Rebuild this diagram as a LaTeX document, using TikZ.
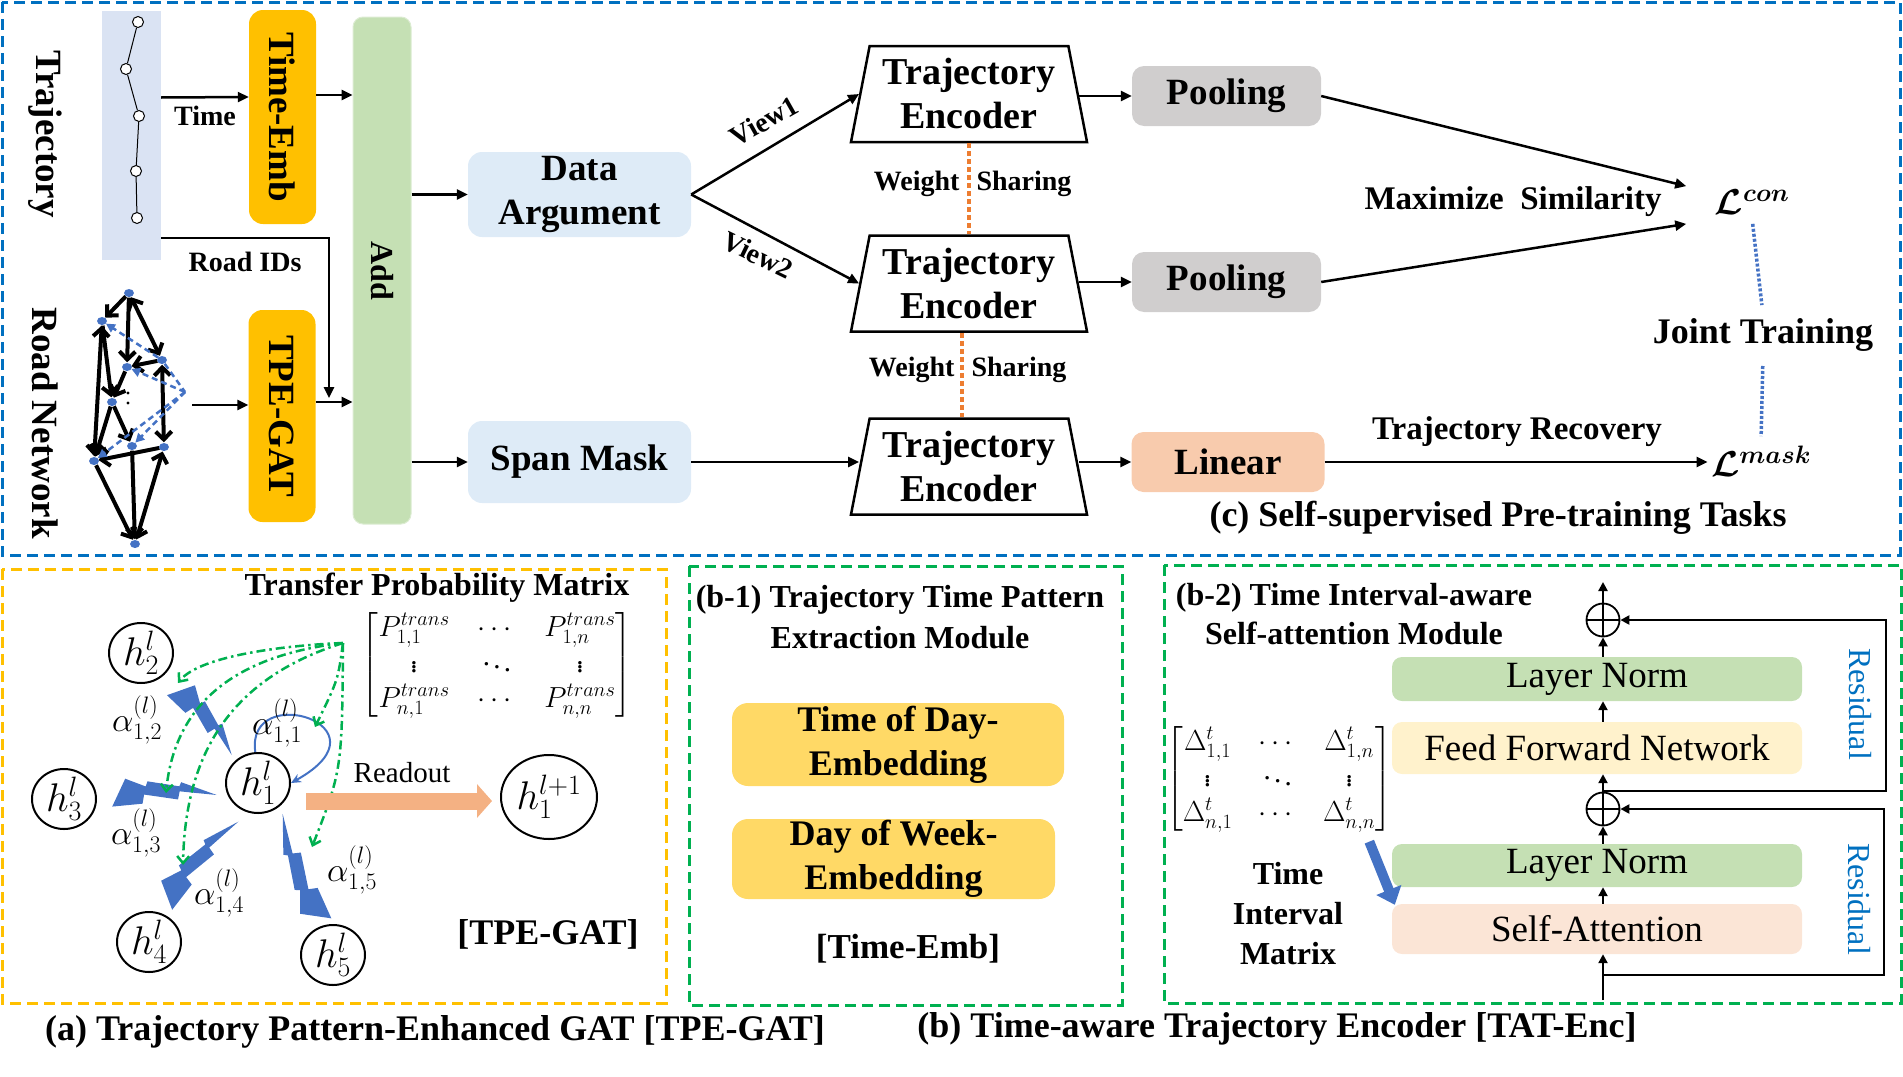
\RequirePackage{fix-cm}
\documentclass[tikz,border=0pt]{standalone}
\usepackage{amsmath}
\usepackage{fontspec}
\setmainfont{Liberation Serif}
\usetikzlibrary{arrows.meta, shapes.geometric, calc, positioning}

\definecolor{trajblue}{HTML}{DAE3F3}
\definecolor{embor}{HTML}{FFC000}
\definecolor{addgreen}{HTML}{C5E0B4}
\definecolor{boxblue}{HTML}{DEEBF7}
\definecolor{poolgray}{HTML}{D0CECE}
\definecolor{linorange}{HTML}{F8CBAD}
\definecolor{dayyellow}{HTML}{FFD966}
\definecolor{ffnyellow}{HTML}{FFF2CC}
\definecolor{sapeach}{HTML}{FBE5D6}
\definecolor{framblue}{HTML}{0070C0}
\definecolor{framgreen}{HTML}{00B050}
\definecolor{shareorange}{HTML}{ED7D31}
\definecolor{boltblue}{HTML}{4472C4}
\definecolor{readorange}{HTML}{F4B183}

\newcommand{\fsz}[2]{\fontsize{#1}{#2}\selectfont}

\tikzset{
  arr/.style={line width=2.5pt, -{Triangle[length=11pt,width=10pt]}},
  arrsm/.style={line width=2.5pt, -{Triangle[length=9pt,width=9pt]}},
  rdarr/.style={line width=4pt, -{Straight Barb[length=8pt,width=16pt]}},
  rdboth/.style={line width=4pt, {Straight Barb[length=8pt,width=16pt]}-{Straight Barb[length=8pt,width=16pt]}},
  rddash/.style={draw=boltblue, line width=2.5pt, dash pattern=on 6pt off 4pt, -{Triangle[length=9pt,width=9pt]}},
  gdd/.style={draw=framgreen, line width=2.5pt, dash pattern=on 9pt off 4pt on 2.5pt off 4pt, -{Straight Barb[length=7pt,width=12pt]}},
  dashframe/.style={line width=3pt, dash pattern=on 11pt off 6pt},
  share/.style={draw=shareorange, line width=4.5pt, dash pattern=on 5pt off 3pt},
  jdots/.style={draw=boltblue, line width=3.5pt, dash pattern=on 3pt off 2pt},
  vtext/.style={rotate=-90, font=\bfseries\fsz{37}{42}},
  embbox/.style={fill=embor, rounded corners=14pt, minimum width=67pt, inner sep=0pt},
  softbox/.style={fill=boxblue, rounded corners=14pt, minimum width=223pt, inner sep=0pt, align=center, font=\bfseries\fsz{37}{44}},
  encbox/.style={trapezium, draw, line width=2.5pt, trapezium left angle=76, trapezium right angle=76, trapezium stretches body, minimum width=236pt, minimum height=96pt, inner sep=2pt, align=center, font=\bfseries\fsz{38}{44}},
  headbox/.style={rounded corners=12pt, minimum width=189pt, minimum height=60pt, inner sep=0pt, font=\bfseries\fsz{37}{42}},
  lbl/.style={font=\bfseries\fsz{28}{32}},
  hnode/.style={ellipse, draw, line width=2pt, minimum width=64pt, minimum height=60pt, inner sep=-3pt, font=\fsz{40}{44}},
  attw/.style={font=\fsz{34}{38}},
  daybox/.style={fill=dayyellow, rounded corners=16pt, inner sep=0pt, align=center, font=\bfseries\fsz{36}{44}},
  layerbox/.style={rounded corners=10pt, minimum width=410pt, inner sep=0pt, font=\fsz{37}{42}},
  plusnode/.style={circle, draw, line width=1.8pt, minimum size=33pt, inner sep=0pt, path picture={\draw[line width=1.8pt] (path picture bounding box.north) -- (path picture bounding box.south) (path picture bounding box.west) -- (path picture bounding box.east);}},
  captext/.style={font=\bfseries\fsz{36}{42}},
}

\begin{document}
\begin{tikzpicture}[x=1pt, y=-1pt]
\useasboundingbox (0,0) rectangle (1903,1076);

\draw[dashframe, draw=framblue] (2,2) rectangle (1900,555);
\draw[dashframe, draw=embor] (2,569) rectangle (666,1003);
\draw[dashframe, draw=framgreen] (689,566) rectangle (1122,1005);
\draw[dashframe, draw=framgreen] (1164,565) rectangle (1901,1003);

% inputs
\node[vtext] (trajlbl) at (45,134) {Trajectory};
\node[vtext] (roadlbl) at (45,423) {Road Network};
\node[fill=trajblue, minimum width=59pt, minimum height=249pt, inner sep=0pt] (traj) at (131.5,135.5) {};
\foreach \px/\py [count=\i] in {138/22,126/69,139/116,136/171,137/218}
  \node[circle, draw, fill=white, line width=1pt, minimum size=11pt, inner sep=0pt] (p\i) at (\px,\py) {};
\draw[line width=1pt] (p1) -- (p2) -- (p3) -- (p4) -- (p5);

\foreach \n/\px/\py in {a/129/293, b/102/321, c/162/360, d/127/367, e/112/402, f/132/446, g/164/447, h/94/461, i/135/544}
  \node[circle, inner sep=0pt, minimum size=9pt] (r\n) at (\px,\py) {};
\coordinate (rtip) at (185,392);
\draw[rdarr] (ra) -- (rb);
\draw[rdarr] (ra) -- (rd);
\draw[rdboth] (ra) -- (rc);
\draw[rdboth] (rb) -- (rh);
\draw[rdarr] (rb) -- (re);
\draw[rdboth] (rc) -- (rg);
\draw[rdarr] (rc) -- (rd);
\draw[rdarr] (rd) -- (re);
\draw[rdarr] (re) -- (rh);
\draw[rdarr] (re) -- (rf);
\draw[rdarr] (rg) -- (rh);
\draw[rdarr] (rh) -- (ri);
\draw[rdarr] (rf) -- (ri);
\draw[rdboth] (rg) -- (ri);
\draw[rddash, -] (rc) -- (rtip);
\draw[rddash] (rtip) -- (rd);
\draw[rddash] (rc) -- (rb);
\draw[rddash] (rtip) -- (rf);
\draw[rddash] (rtip) -- (rh);
\foreach \n in {a,b,c,d,e,f,g,h,i}
  \fill[boltblue] (r\n) ellipse (5pt and 4pt);
\fill (128,393) circle (1.6pt) (128,403) circle (1.6pt);

% embedding and fusion
\node[embbox, minimum height=214pt, label={[vtext]center:Time-Emb}] (temb) at (282.5,117) {};
\node[embbox, minimum height=212pt, label={[vtext]center:TPE-GAT}] (tpe) at (282,416) {};
\node[fill=addgreen, draw=addgreen!60!white, line width=1pt, rounded corners=10pt, minimum width=58pt, minimum height=507pt, inner sep=0pt, label={[vtext, font=\bfseries\fsz{32}{36}]center:Add}] (add) at (382,270.5) {};
\node[softbox, minimum height=85pt] (da) at (579.5,194.5) {Data\\Argument};
\node[softbox, minimum height=82pt] (sm) at (579.5,462) {Span Mask};

\node[encbox] (enc1) at (969,94) {Trajectory\\Encoder};
\node[encbox] (enc2) at (969,283.5) {Trajectory\\Encoder};
\node[encbox] (enc3) at (969,466.5) {Trajectory\\Encoder};
\node[headbox, fill=poolgray] (pool1) at (1226.5,96) {Pooling};
\node[headbox, fill=poolgray] (pool2) at (1226.5,282) {Pooling};
\node[headbox, fill=linorange, minimum width=193pt] (lin) at (1228,462) {Linear};

\node[font=\fsz{36}{40}] (lcon) at (1752,202) {$\boldsymbol{\mathcal{L}^{con}}$};
\node[font=\bfseries\fsz{36}{40}] (joint) at (1763,335) {Joint Training};
\node[font=\fsz{36}{40}] (lmask) at (1761,461) {$\boldsymbol{\mathcal{L}^{mask}}$};
\node[font=\bfseries\fsz{33}{38}] (maxsim) at (1513,202) {Maximize~ Similarity};
\node[font=\bfseries\fsz{33}{38}] (recov) at (1517,432) {Trajectory Recovery};

\coordinate (netout) at (192,405);
\coordinate (idsend) at (329,398);
\draw[arr] ([yshift=38pt]traj.east) -- ([yshift=20pt]temb.west) node[midway, below=4pt, lbl] (timelbl) {Time};
\draw[arr] ([yshift=22pt]traj.south east) -| (idsend) node[pos=0.25, below=9pt, lbl] (idslbl) {Road IDs};
\draw[arr] (temb.east |- 0,95) -- (add.west |- 0,95);
\draw[arr] (netout) -- (netout -| tpe.west);
\draw[arr] (tpe.east |- 0,402) -- (add.west |- 0,402);
\draw[arr] (add.east |- da.west) -- (da.west);
\draw[arr] (add.east |- sm.west) -- (sm.west);
\draw[arr] (da.east) -- (enc1.west);
\draw[arr] (da.east) -- (enc2.west);
\node[lbl, rotate=29.5] (v1lbl) at (764,121) {View1};
\node[lbl, rotate=-26] (v2lbl) at (758,255) {View2};
\draw[arr] (sm.east) -- (sm.east -| enc3.west);
\draw[arr] (pool1.west -| enc1.east) -- (pool1.west);
\draw[arr] (pool2.west -| enc2.east) -- (pool2.west);
\draw[arr] (lin.west -| enc3.east) -- (lin.west);
\draw[arr] (pool1.east) -- ([xshift=-25pt]lcon.north west);
\draw[arr] (pool2.east) -- ([xshift=-25pt,yshift=-6pt]lcon.south west);
\draw[arr] (lin.east) -- (lin.east -| lmask.west);

\draw[share] (enc1.south) -- (enc2.north);
\draw[share] ([xshift=-7pt]enc2.south) -- ([xshift=-7pt]enc3.north);
\node[lbl, anchor=east] (ws1a) at (963,184) {Weight};
\node[lbl, anchor=west] (ws1b) at (973,184) {Sharing};
\node[lbl, anchor=east] (ws2a) at (958,370) {Weight};
\node[lbl, anchor=west] (ws2b) at (968,370) {Sharing};
\draw[jdots, shorten <=6pt, shorten >=10pt] (lcon.south) -- (joint.north);
\draw[jdots, shorten <=11pt, shorten >=6pt] (joint.south) -- (lmask.north);
\node[captext] (capc) at (1498,518) {(c) Self-supervised Pre-training Tasks};

% (a) TPE-GAT
\node[font=\bfseries\fsz{32}{36}] (tpmlbl) at (437,588) {Transfer Probability Matrix};
\node[font=\fsz{29}{35}] (pm) at (497,665) {$\setlength{\arraycolsep}{14pt}\begin{bmatrix} P^{trans}_{1,1} & \cdots & P^{trans}_{1,n}\\ \vdots & \ddots & \vdots\\ P^{trans}_{n,1} & \cdots & P^{trans}_{n,n}\end{bmatrix}$};
\node[hnode] (h1) at (258,783) {$h_1^l$};
\node[hnode] (h2) at (141,653) {$h_2^l$};
\node[hnode] (h3) at (64,799) {$h_3^l$};
\node[hnode] (h4) at (149,942) {$h_4^l$};
\node[hnode] (h5) at (333,955) {$h_5^l$};
\node[hnode, minimum width=96pt, minimum height=84pt] (hn) at (549,797) {$h_1^{l+1}$};
\foreach \x/\y/\ang/\len in {231.7/755/134/88, 216.7/795/183.6/105, 238.3/821.7/230.5/110, 282.7/814/292.5/115}
  \fill[boltblue, shift={(\x,\y)}, rotate=\ang, xscale=\len] (0,0) -- (0.35,6) -- (0.37,-2) -- (0.69,5) -- (0.71,-4) -- (1,-5) -- (0.86,22) -- (0.67,13) -- (0.65,18) -- (0.35,11) -- (0.33,15) -- cycle;
\draw[draw=boltblue, line width=2pt, -{Stealth[length=10pt,width=9pt]}] (h1.95) .. controls (245,680) and (395,725) .. (h1.east);
\node[attw] (a12) at (137,720) {$\alpha_{1,2}^{(l)}$};
\node[attw] (a11) at (277,723) {$\alpha_{1,1}^{(l)}$};
\node[attw] (a13) at (136,833) {$\alpha_{1,3}^{(l)}$};
\node[attw] (a14) at (219,893) {$\alpha_{1,4}^{(l)}$};
\node[attw] (a15) at (352,870) {$\alpha_{1,5}^{(l)}$};
\coordinate (gsrc) at (343,643);
\coordinate (gt1) at (315,727);
\coordinate (gt2) at (178,683);
\coordinate (gt3) at (166,793);
\coordinate (gt4) at (183,865);
\coordinate (gt5) at (312,847);
\draw[gdd] (gsrc) .. controls (290,645) and (200,655) .. (gt2);
\draw[gdd] (gsrc) .. controls (240,655) and (175,700) .. (gt3);
\draw[gdd] (gsrc) .. controls (225,680) and (185,760) .. (gt4);
\draw[gdd] (gsrc) .. controls (338,680) .. (gt1);
\draw[gdd] (gsrc) .. controls (342,770) .. (gt5);
\draw[line width=17pt, readorange, -{Triangle[length=15pt,width=33pt]}] ($(h1.east)+(15,18)$) -- ($(hn.west)+(-8,4)$);
\node[font=\fsz{29}{34}] (rdlbl) at (402,773) {Readout};
\node[font=\bfseries\fsz{36}{40}] (gattag) at (548,934) {[TPE-GAT]};
\node[captext] (capa) at (435,1032) {(a) Trajectory Pattern-Enhanced GAT [TPE-GAT]};

% (b-1)
\node[font=\bfseries\fsz{32}{41}, align=center] (b1title) at (900,617) {(b-1) Trajectory Time Pattern\\Extraction Module};
\node[daybox, minimum width=332pt, minimum height=83pt] (tod) at (898,744.5) {Time of Day-\\Embedding};
\node[daybox, minimum width=323pt, minimum height=80pt] (dow) at (893.5,859) {Day of Week-\\Embedding};
\node[font=\bfseries\fsz{35}{40}] (embtag) at (908,949) {[Time-Emb]};

% (b-2)
\node[font=\bfseries\fsz{32}{39}, align=center] (b2title) at (1354,614) {(b-2) Time Interval-aware\\Self-attention Module};
\node[layerbox, fill=addgreen, minimum height=44pt] (lnt) at (1597,679) {Layer Norm};
\node[layerbox, fill=ffnyellow, minimum height=52pt] (ffn) at (1597,748) {Feed Forward Network};
\node[layerbox, fill=addgreen, minimum height=43pt] (lnb) at (1597,865.5) {Layer Norm};
\node[layerbox, fill=sapeach, minimum height=50pt] (sa) at (1597,929) {Self-Attention};
\node[plusnode] (plust) at (1603,620) {};
\node[plusnode] (plusb) at (1603,809) {};
\coordinate (encin) at (1603,1000);
\coordinate (encout) at (1603,582);
\coordinate (res1) at (1603,975);
\coordinate (res2) at (1603,791);
\draw[arrsm] (encin) -- (sa.south -| encin);
\draw[arrsm] (sa.north -| encin) -- (lnb.south -| encin);
\draw[arrsm] (lnb.north -| encin) -- (plusb);
\draw[arrsm] (plusb) -- (ffn.south -| plusb);
\draw[arrsm] (ffn.north -| plusb) -- (lnt.south -| plusb);
\draw[arrsm] (lnt.north -| plust) -- (plust);
\draw[arrsm] (plust) -- (encout);
\draw[arrsm] (res1) -| ($(plusb)+(281,0)$) -- (plusb);
\draw[arrsm] (res2) -| ($(plust)+(283,0)$) -- (plust);
\node[rotate=-90, text=framblue, font=\fsz{32}{36}] (resl2) at (1860,704) {Residual};
\node[rotate=-90, text=framblue, font=\fsz{32}{36}] (resl1) at (1859,899) {Residual};
\node[font=\fsz{29}{35}] (dm) at (1279,779) {$\setlength{\arraycolsep}{13pt}\begin{bmatrix}\Delta^t_{1,1} & \cdots & \Delta^t_{1,n}\\ \vdots & \ddots & \vdots\\ \Delta^t_{n,1} & \cdots & \Delta^t_{n,n}\end{bmatrix}$};
\node[font=\bfseries\fsz{32}{40}, align=center] (timat) at (1288,914) {Time\\Interval\\Matrix};
\draw[line width=10pt, boltblue, -{Triangle[length=16pt,width=26pt]}] ($(dm.south east)+(-26,6)$) -- ([xshift=3pt,yshift=-1pt]sa.north west);
\node[captext] (capb) at (1277,1029) {(b) Time-aware Trajectory Encoder [TAT-Enc]};
\end{tikzpicture}
\end{document}
